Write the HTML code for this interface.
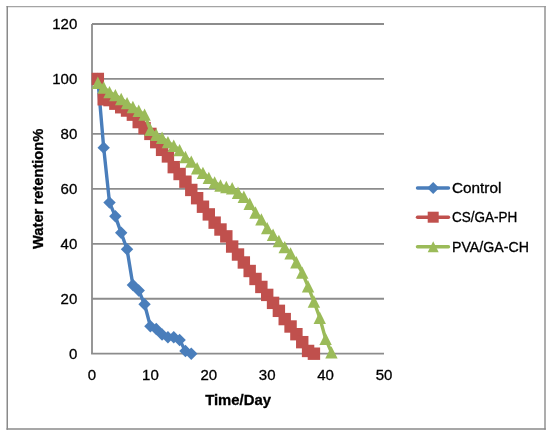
<!DOCTYPE html>
<html><head><meta charset="utf-8"><style>
html,body{margin:0;padding:0;background:#fff;width:550px;height:435px;overflow:hidden}
svg{display:block}
text{font-family:"Liberation Sans",Arial,sans-serif;fill:#000;stroke:#000;stroke-width:0.3px}
</style></head><body>
<svg width="550" height="435" viewBox="0 0 550 435">
<rect x="0" y="0" width="550" height="435" fill="#fff"/>

<g fill="none"><line x1="6.5" y1="6.6" x2="545.8" y2="6.6" stroke="#a4a4a4" stroke-width="1.3"/><line x1="7.25" y1="6" x2="7.25" y2="429.8" stroke="#8a8a8a" stroke-width="1.5"/><line x1="545" y1="6" x2="545" y2="429.8" stroke="#999" stroke-width="1.6"/><line x1="6.5" y1="429" x2="545.8" y2="429" stroke="#8a8a8a" stroke-width="1.7"/></g>
<g stroke="#8c8c8c" stroke-width="1.8"><line x1="92.00" y1="298.75" x2="384.00" y2="298.75"/><line x1="92.00" y1="243.80" x2="384.00" y2="243.80"/><line x1="92.00" y1="188.85" x2="384.00" y2="188.85"/><line x1="92.00" y1="133.90" x2="384.00" y2="133.90"/><line x1="92.00" y1="78.95" x2="384.00" y2="78.95"/><line x1="92.00" y1="24.00" x2="384.00" y2="24.00"/></g>
<g stroke="#8c8c8c" stroke-width="1.8"><line x1="92.0" y1="24.00" x2="92.0" y2="353.70"/><line x1="91.1" y1="353.7" x2="384.00" y2="353.7"/></g>
<g font-size="15"><text x="77.3" y="358.50" text-anchor="end">0</text><text x="77.3" y="303.55" text-anchor="end">20</text><text x="77.3" y="248.60" text-anchor="end">40</text><text x="77.3" y="193.65" text-anchor="end">60</text><text x="77.3" y="138.70" text-anchor="end">80</text><text x="77.3" y="83.75" text-anchor="end">100</text><text x="77.3" y="28.80" text-anchor="end">120</text></g>
<g font-size="15"><text x="92.00" y="380" text-anchor="middle">0</text><text x="150.40" y="380" text-anchor="middle">10</text><text x="208.80" y="380" text-anchor="middle">20</text><text x="267.20" y="380" text-anchor="middle">30</text><text x="325.60" y="380" text-anchor="middle">40</text><text x="384.00" y="380" text-anchor="middle">50</text></g>
<text x="238.1" y="404.6" font-size="14.2" font-weight="bold" text-anchor="middle" textLength="65.9" lengthAdjust="spacingAndGlyphs">Time/Day</text>
<text transform="translate(42.7,188.8) rotate(-90)" x="0" y="0" font-size="14.2" font-weight="bold" text-anchor="middle" textLength="120.4" lengthAdjust="spacingAndGlyphs">Water retention%</text>
<polyline points="97.84,78.95 103.68,147.64 109.52,202.59 115.36,216.32 121.20,232.81 127.04,249.29 132.88,285.01 138.72,290.51 144.56,304.25 150.40,326.22 156.24,328.97 162.08,334.47 167.92,337.21 173.76,337.21 179.60,339.96 185.44,350.95 191.28,353.70" fill="none" stroke="#4a7ebb" stroke-width="3.4" stroke-linejoin="round" stroke-linecap="round"/><g fill="#4a7ebb"><path d="M97.84 72.75L104.04 78.95L97.84 85.15L91.64 78.95Z"/><path d="M103.68 141.44L109.88 147.64L103.68 153.84L97.48 147.64Z"/><path d="M109.52 196.39L115.72 202.59L109.52 208.79L103.32 202.59Z"/><path d="M115.36 210.12L121.56 216.32L115.36 222.52L109.16 216.32Z"/><path d="M121.20 226.61L127.40 232.81L121.20 239.01L115.00 232.81Z"/><path d="M127.04 243.09L133.24 249.29L127.04 255.49L120.84 249.29Z"/><path d="M132.88 278.81L139.08 285.01L132.88 291.21L126.68 285.01Z"/><path d="M138.72 284.31L144.92 290.51L138.72 296.71L132.52 290.51Z"/><path d="M144.56 298.05L150.76 304.25L144.56 310.44L138.36 304.25Z"/><path d="M150.40 320.02L156.60 326.22L150.40 332.42L144.20 326.22Z"/><path d="M156.24 322.77L162.44 328.97L156.24 335.17L150.04 328.97Z"/><path d="M162.08 328.27L168.28 334.47L162.08 340.67L155.88 334.47Z"/><path d="M167.92 331.01L174.12 337.21L167.92 343.41L161.72 337.21Z"/><path d="M173.76 331.01L179.96 337.21L173.76 343.41L167.56 337.21Z"/><path d="M179.60 333.76L185.80 339.96L179.60 346.16L173.40 339.96Z"/><path d="M185.44 344.75L191.64 350.95L185.44 357.15L179.24 350.95Z"/><path d="M191.28 347.50L197.48 353.70L191.28 359.90L185.08 353.70Z"/></g>
<polyline points="97.84,78.95 103.68,99.28 109.52,100.11 115.36,103.68 121.20,107.25 127.04,110.55 132.88,114.67 138.72,122.09 144.56,128.13 150.40,133.90 156.24,142.14 162.08,149.84 167.92,156.43 173.76,167.14 179.60,174.01 185.44,181.71 191.28,189.95 197.12,198.19 202.96,206.71 208.80,214.40 214.64,222.64 220.48,229.51 226.32,236.38 232.16,246.55 238.00,254.52 243.84,262.48 249.68,271.00 255.52,278.97 261.36,286.94 267.20,294.90 273.04,302.87 278.88,310.84 284.72,319.08 290.56,326.50 296.40,334.19 302.24,342.16 308.08,350.95 313.92,353.70" fill="none" stroke="#c0504d" stroke-width="3.4" stroke-linejoin="round" stroke-linecap="round"/><g fill="#c0504d"><rect x="91.64" y="72.75" width="12.4" height="12.4"/><rect x="97.48" y="93.08" width="12.4" height="12.4"/><rect x="103.32" y="93.91" width="12.4" height="12.4"/><rect x="109.16" y="97.48" width="12.4" height="12.4"/><rect x="115.00" y="101.05" width="12.4" height="12.4"/><rect x="120.84" y="104.35" width="12.4" height="12.4"/><rect x="126.68" y="108.47" width="12.4" height="12.4"/><rect x="132.52" y="115.89" width="12.4" height="12.4"/><rect x="138.36" y="121.93" width="12.4" height="12.4"/><rect x="144.20" y="127.70" width="12.4" height="12.4"/><rect x="150.04" y="135.94" width="12.4" height="12.4"/><rect x="155.88" y="143.64" width="12.4" height="12.4"/><rect x="161.72" y="150.23" width="12.4" height="12.4"/><rect x="167.56" y="160.94" width="12.4" height="12.4"/><rect x="173.40" y="167.81" width="12.4" height="12.4"/><rect x="179.24" y="175.51" width="12.4" height="12.4"/><rect x="185.08" y="183.75" width="12.4" height="12.4"/><rect x="190.92" y="191.99" width="12.4" height="12.4"/><rect x="196.76" y="200.51" width="12.4" height="12.4"/><rect x="202.60" y="208.20" width="12.4" height="12.4"/><rect x="208.44" y="216.44" width="12.4" height="12.4"/><rect x="214.28" y="223.31" width="12.4" height="12.4"/><rect x="220.12" y="230.18" width="12.4" height="12.4"/><rect x="225.96" y="240.35" width="12.4" height="12.4"/><rect x="231.80" y="248.32" width="12.4" height="12.4"/><rect x="237.64" y="256.28" width="12.4" height="12.4"/><rect x="243.48" y="264.80" width="12.4" height="12.4"/><rect x="249.32" y="272.77" width="12.4" height="12.4"/><rect x="255.16" y="280.74" width="12.4" height="12.4"/><rect x="261.00" y="288.70" width="12.4" height="12.4"/><rect x="266.84" y="296.67" width="12.4" height="12.4"/><rect x="272.68" y="304.64" width="12.4" height="12.4"/><rect x="278.52" y="312.88" width="12.4" height="12.4"/><rect x="284.36" y="320.30" width="12.4" height="12.4"/><rect x="290.20" y="327.99" width="12.4" height="12.4"/><rect x="296.04" y="335.96" width="12.4" height="12.4"/><rect x="301.88" y="344.75" width="12.4" height="12.4"/><rect x="307.72" y="347.50" width="12.4" height="12.4"/></g>
<polyline points="97.84,82.80 103.68,87.47 109.52,92.14 115.36,95.16 121.20,99.01 127.04,103.13 132.88,106.97 138.72,110.82 144.56,114.67 150.40,129.78 156.24,134.72 162.08,137.75 167.92,142.14 173.76,145.71 179.60,150.11 185.44,156.98 191.28,161.65 197.12,168.24 202.96,172.91 208.80,177.86 214.64,182.53 220.48,185.55 226.32,186.93 232.16,188.30 238.00,192.70 243.84,196.82 249.68,203.69 255.52,212.48 261.36,219.35 267.20,228.14 273.04,234.73 278.88,241.05 284.72,247.10 290.56,253.42 296.40,262.21 302.24,272.65 308.08,286.39 313.92,301.50 319.76,317.71 325.60,338.86 331.44,352.33" fill="none" stroke="#9bbb59" stroke-width="3.4" stroke-linejoin="round" stroke-linecap="round"/><g fill="#9bbb59"><path d="M97.84 76.60L104.04 89.00L91.64 89.00Z"/><path d="M103.68 81.27L109.88 93.67L97.48 93.67Z"/><path d="M109.52 85.94L115.72 98.34L103.32 98.34Z"/><path d="M115.36 88.96L121.56 101.36L109.16 101.36Z"/><path d="M121.20 92.81L127.40 105.21L115.00 105.21Z"/><path d="M127.04 96.93L133.24 109.33L120.84 109.33Z"/><path d="M132.88 100.77L139.08 113.17L126.68 113.17Z"/><path d="M138.72 104.62L144.92 117.02L132.52 117.02Z"/><path d="M144.56 108.47L150.76 120.87L138.36 120.87Z"/><path d="M150.40 123.58L156.60 135.98L144.20 135.98Z"/><path d="M156.24 128.52L162.44 140.92L150.04 140.92Z"/><path d="M162.08 131.55L168.28 143.95L155.88 143.95Z"/><path d="M167.92 135.94L174.12 148.34L161.72 148.34Z"/><path d="M173.76 139.51L179.96 151.91L167.56 151.91Z"/><path d="M179.60 143.91L185.80 156.31L173.40 156.31Z"/><path d="M185.44 150.78L191.64 163.18L179.24 163.18Z"/><path d="M191.28 155.45L197.48 167.85L185.08 167.85Z"/><path d="M197.12 162.04L203.32 174.44L190.92 174.44Z"/><path d="M202.96 166.71L209.16 179.11L196.76 179.11Z"/><path d="M208.80 171.66L215.00 184.06L202.60 184.06Z"/><path d="M214.64 176.33L220.84 188.73L208.44 188.73Z"/><path d="M220.48 179.35L226.68 191.75L214.28 191.75Z"/><path d="M226.32 180.73L232.52 193.13L220.12 193.13Z"/><path d="M232.16 182.10L238.36 194.50L225.96 194.50Z"/><path d="M238.00 186.50L244.20 198.90L231.80 198.90Z"/><path d="M243.84 190.62L250.04 203.02L237.64 203.02Z"/><path d="M249.68 197.49L255.88 209.89L243.48 209.89Z"/><path d="M255.52 206.28L261.72 218.68L249.32 218.68Z"/><path d="M261.36 213.15L267.56 225.55L255.16 225.55Z"/><path d="M267.20 221.94L273.40 234.34L261.00 234.34Z"/><path d="M273.04 228.53L279.24 240.93L266.84 240.93Z"/><path d="M278.88 234.85L285.08 247.25L272.68 247.25Z"/><path d="M284.72 240.90L290.92 253.30L278.52 253.30Z"/><path d="M290.56 247.22L296.76 259.62L284.36 259.62Z"/><path d="M296.40 256.01L302.60 268.41L290.20 268.41Z"/><path d="M302.24 266.45L308.44 278.85L296.04 278.85Z"/><path d="M308.08 280.19L314.28 292.59L301.88 292.59Z"/><path d="M313.92 295.30L320.12 307.70L307.72 307.70Z"/><path d="M319.76 311.51L325.96 323.91L313.56 323.91Z"/><path d="M325.60 332.66L331.80 345.06L319.40 345.06Z"/><path d="M331.44 346.13L337.64 358.53L325.24 358.53Z"/></g>
<line x1="417.5" y1="188" x2="448.5" y2="188" stroke="#4a7ebb" stroke-width="3.4" stroke-linecap="round"/><g fill="#4a7ebb"><path d="M433.20 182.00L439.20 188.00L433.20 194.00L427.20 188.00Z"/></g><text x="452" y="193.1" font-size="14" textLength="49.4" lengthAdjust="spacingAndGlyphs">Control</text>
<line x1="417.5" y1="217.2" x2="448.5" y2="217.2" stroke="#c0504d" stroke-width="3.4" stroke-linecap="round"/><g fill="#c0504d"><rect x="427.70" y="211.70" width="11.0" height="11.0"/></g><text x="452" y="222.3" font-size="14" textLength="65.3" lengthAdjust="spacingAndGlyphs">CS/GA-PH</text>
<line x1="417.5" y1="246.7" x2="448.5" y2="246.7" stroke="#9bbb59" stroke-width="3.4" stroke-linecap="round"/><g fill="#9bbb59"><path d="M433.20 241.20L438.70 252.20L427.70 252.20Z"/></g><text x="452" y="251.8" font-size="14" textLength="76.9" lengthAdjust="spacingAndGlyphs">PVA/GA-CH</text>
</svg></body></html>
